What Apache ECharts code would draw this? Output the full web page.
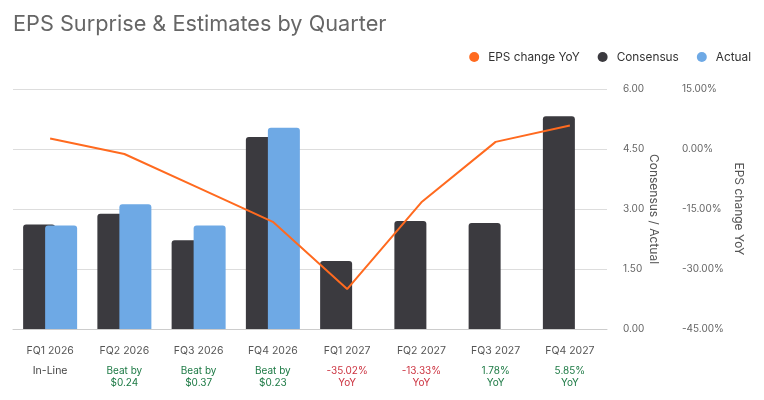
<!DOCTYPE html>
<html>
<head>
    <meta charset="utf-8">
    <title>EPS Surprise & Estimates by Quarter</title>
    <script src="https://cdn.jsdelivr.net/npm/echarts@6/dist/echarts.min.js"></script>
    <style>
        html, body { margin: 0; padding: 0; background: #fff; }
        #chart { width: 764px; height: 400px; }
    </style>
</head>
<body>
<div id="chart"></div>
<script>
    // 数据
    var quarters = ['FQ1 2026', 'FQ2 2026', 'FQ3 2026', 'FQ4 2026', 'FQ1 2027', 'FQ2 2027', 'FQ3 2027', 'FQ4 2027'];
    var consensus = [2.61, 2.88, 2.22, 4.80, 1.70, 2.70, 2.65, 5.32];
    var actual = [2.59, 3.12, 2.59, 5.03, null, null, null, null];
    var epsYoY = [2.6, -1.25, -9.7, -18.2, -35.02, -13.33, 1.78, 5.85];
    var noteLines = [
        ['In-Line'],
        ['Beat by', '$0.24'],
        ['Beat by', '$0.37'],
        ['Beat by', '$0.23'],
        ['-35.02%', 'YoY'],
        ['-13.33%', 'YoY'],
        ['1.78%', 'YoY'],
        ['5.85%', 'YoY']
    ];
    var noteTone = ['n', 'g', 'g', 'g', 'r', 'r', 'g', 'g'];

    var font = 'Inter, Helvetica, Arial, sans-serif';

    var chart = echarts.init(document.getElementById('chart'));
    chart.setOption({
        animation: false,
        textStyle: { fontFamily: font },
        title: {
            text: 'EPS Surprise & Estimates by Quarter',
            left: 8,
            top: 8,
            textStyle: { fontSize: 21.7, fontWeight: 'normal', color: '#666', fontFamily: font }
        },
        legend: {
            right: 8,
            top: 46,
            icon: 'circle',
            itemWidth: 10,
            itemHeight: 10,
            itemGap: 18,
            textStyle: { fontSize: 11.8, color: '#333', padding: [0, 0, 0, 4] },
            data: ['EPS change YoY', 'Consensus', 'Actual']
        },
        grid: { left: 13, right: 157, top: 89, bottom: 71 },
        xAxis: {
            type: 'category',
            data: quarters,
            axisLine: { lineStyle: { color: '#ccc' } },
            axisTick: { show: false },
            axisLabel: {
                margin: 8,
                interval: 0,
                formatter: function (v, i) {
                    var t = noteTone[i];
                    var s = '{c|' + v + '}';
                    noteLines[i].forEach(function (l) { s += '\n{' + t + '|' + l + '}'; });
                    return s;
                },
                rich: {
                    c: { fontSize: 10.5, color: '#555', lineHeight: 28, fontFamily: font },
                    n: { fontSize: 10.5, color: '#444', lineHeight: 12, fontFamily: font },
                    g: { fontSize: 10, color: '#1d7a45', lineHeight: 12, fontFamily: font },
                    r: { fontSize: 10, color: '#cc3340', lineHeight: 12, fontFamily: font }
                }
            }
        },
        yAxis: [
            {
                type: 'value',
                position: 'right',
                min: 0,
                max: 6,
                interval: 1.5,
                name: 'Consensus / Actual',
                nameLocation: 'middle',
                nameRotate: -90,
                nameGap: 41,
                nameMoveOverlap: false,
                nameTextStyle: { fontSize: 12, color: '#555' },
                axisLine: { show: false },
                axisTick: { show: false },
                axisLabel: {
                    margin: 16,
                    fontSize: 10,
                    color: '#666',
                    formatter: function (v) { return v.toFixed(2); }
                },
                splitLine: { lineStyle: { color: '#ddd' } }
            },
            {
                type: 'value',
                position: 'right',
                offset: 59,
                min: -45,
                max: 15,
                interval: 15,
                name: 'EPS change YoY',
                nameLocation: 'middle',
                nameRotate: -90,
                nameGap: 67,
                nameMoveOverlap: false,
                nameTextStyle: { fontSize: 12, color: '#555' },
                axisLine: { show: false },
                axisTick: { show: false },
                axisLabel: {
                    margin: 16,
                    fontSize: 10,
                    color: '#666',
                    formatter: function (v) { return v.toFixed(2) + '%'; }
                },
                splitLine: { show: false }
            }
        ],
        series: [
            {
                name: 'Consensus',
                type: 'bar',
                data: consensus,
                barWidth: 32,
                barGap: '-31.25%',
                itemStyle: { color: '#3b3a3f', borderRadius: [3, 3, 0, 0] }
            },
            {
                name: 'Actual',
                type: 'bar',
                data: actual,
                barWidth: 32,
                itemStyle: { color: '#6ea9e5', borderRadius: [3, 3, 0, 0] }
            },
            {
                name: 'EPS change YoY',
                type: 'line',
                yAxisIndex: 1,
                data: epsYoY,
                symbol: 'none',
                z: 5,
                lineStyle: { color: '#ff6a1f', width: 2 },
                itemStyle: { color: '#ff6a1f' }
            }
        ]
    });
</script>
</body>
</html>
